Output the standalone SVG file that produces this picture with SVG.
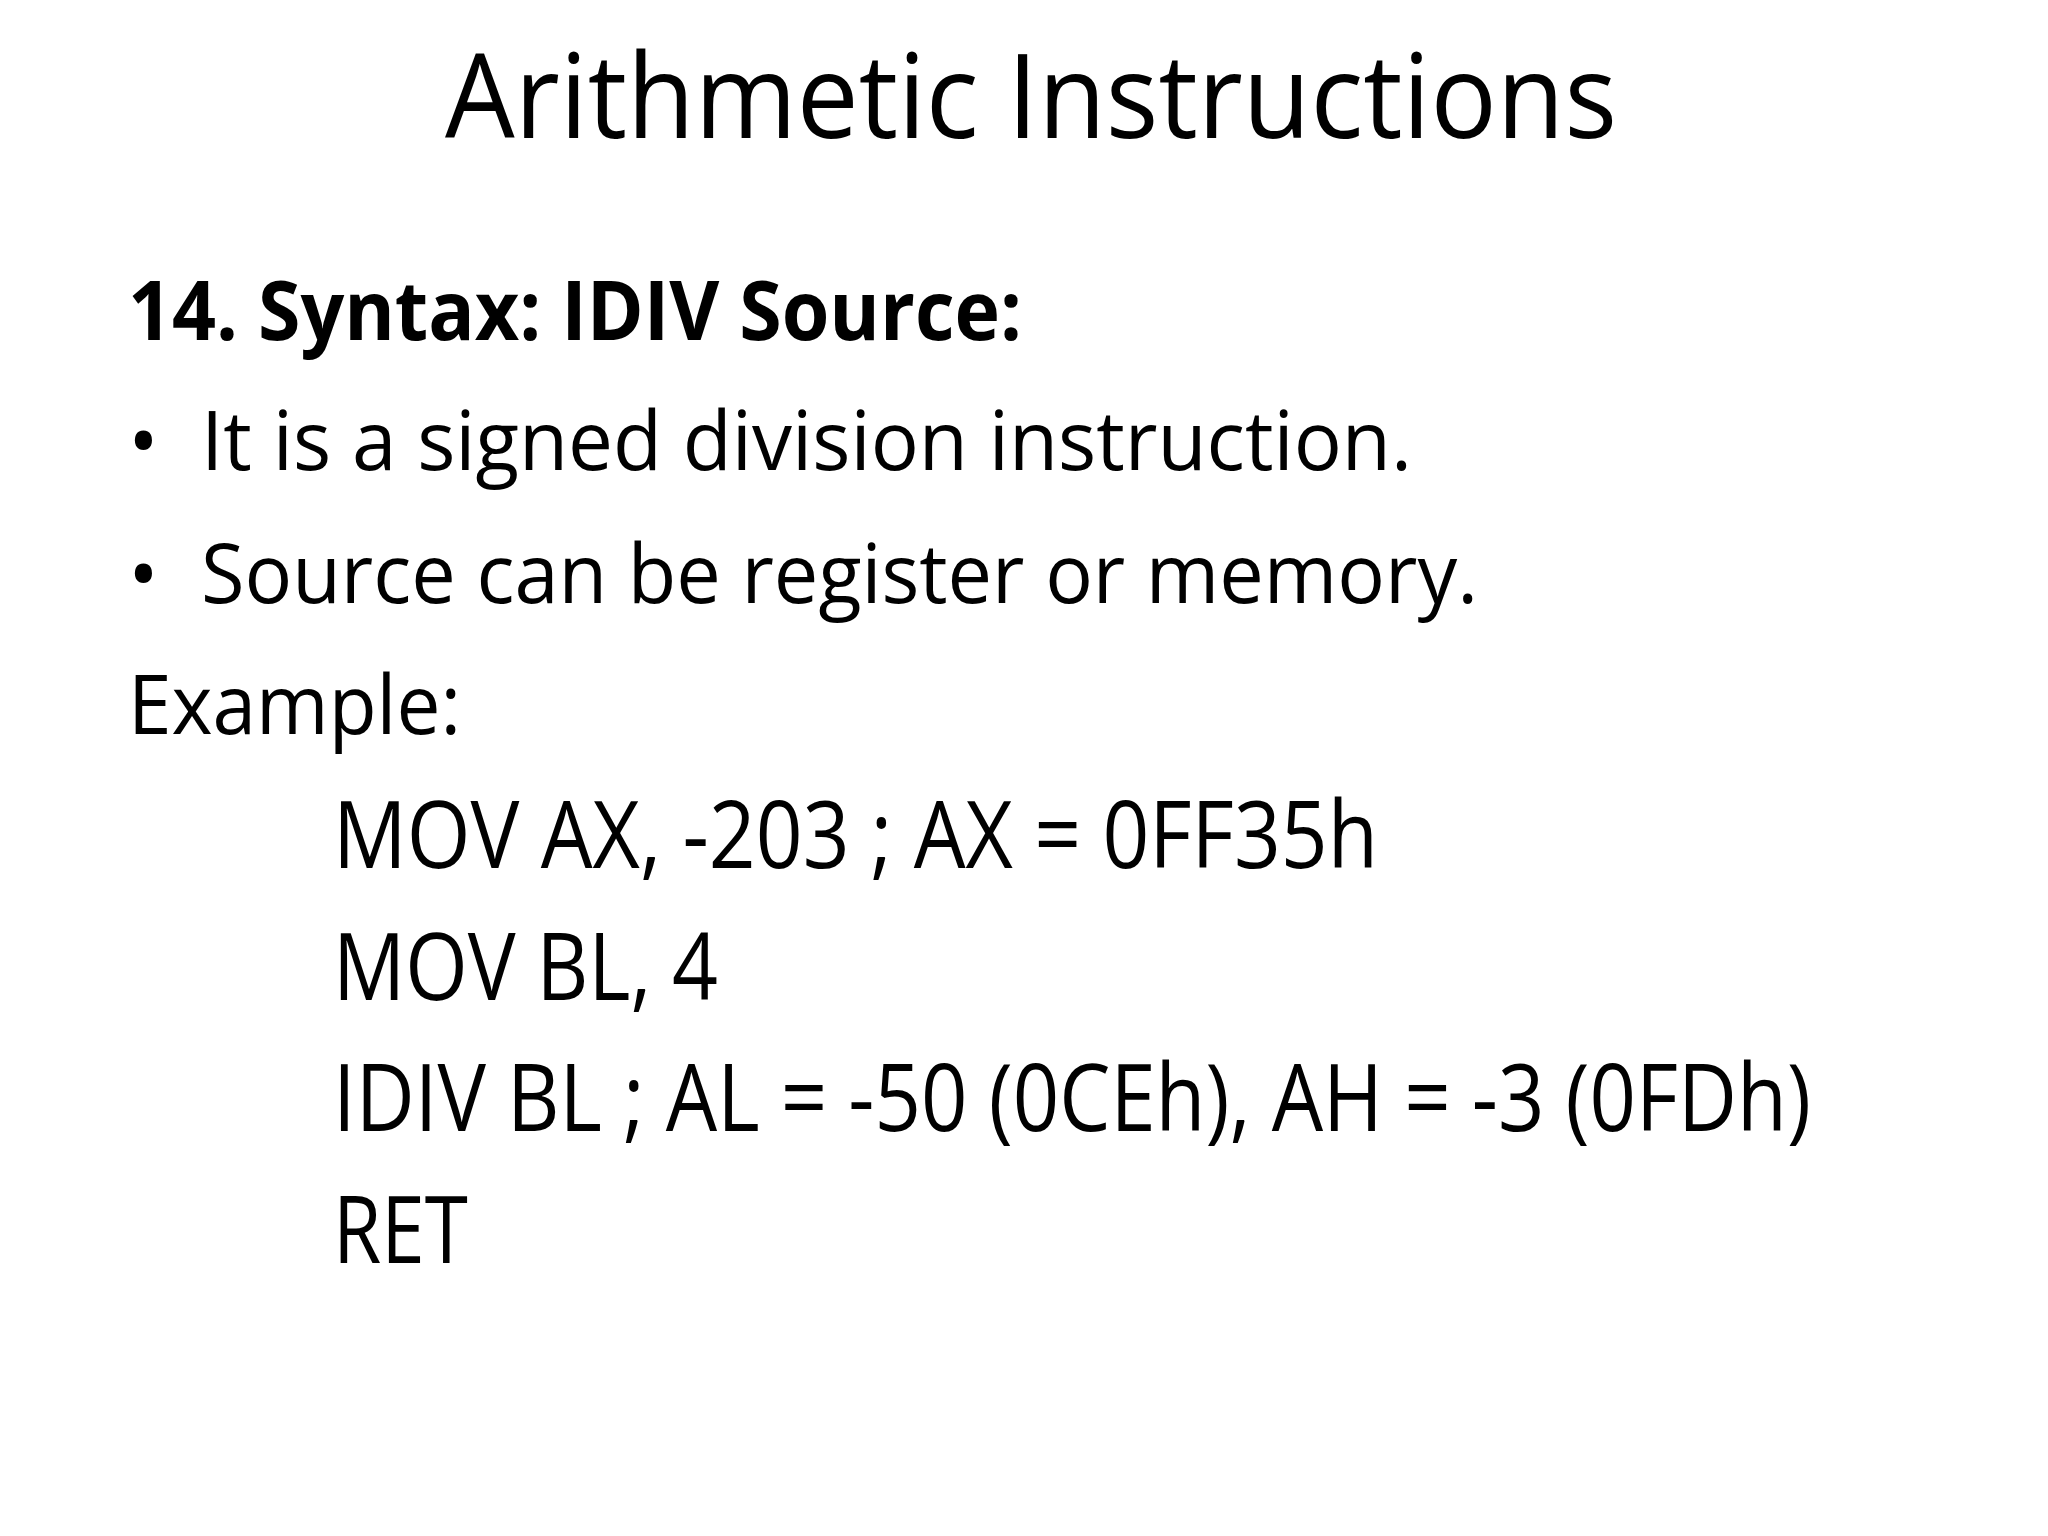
<svg xmlns="http://www.w3.org/2000/svg" width="2048" height="1536" viewBox="0 0 2048 1536">
<style>
text{font-family:"Open Sans","Noto Sans",sans-serif;fill:#000}
.b{font-size:82px}
.c{font-size:94px}
</style>
<rect width="2048" height="1536" fill="#fff"/>
<text x="445" y="138" font-size="118" textLength="1172" lengthAdjust="spacingAndGlyphs">Arithmetic Instructions</text>
<text x="128" y="340" class="b" font-weight="bold" textLength="894" lengthAdjust="spacingAndGlyphs">14. Syntax: IDIV Source:</text>
<text x="128" y="470" class="b">•</text>
<text x="201" y="470" class="b" textLength="1211" lengthAdjust="spacingAndGlyphs">It is a signed division instruction.</text>
<text x="128" y="603" class="b">•</text>
<text x="201" y="603" class="b" textLength="1277" lengthAdjust="spacingAndGlyphs">Source can be register or memory.</text>
<text x="128" y="734" class="b" textLength="333" lengthAdjust="spacingAndGlyphs">Example:</text>
<text x="333" y="868" class="c" textLength="1045" lengthAdjust="spacingAndGlyphs">MOV AX, -203 ; AX = 0FF35h</text>
<text x="333" y="1000" class="c" textLength="385" lengthAdjust="spacingAndGlyphs">MOV BL, 4</text>
<text x="333" y="1131" class="c" textLength="1478" lengthAdjust="spacingAndGlyphs">IDIV BL ; AL = -50 (0CEh), AH = -3 (0FDh)</text>
<text x="333" y="1263" class="c" textLength="135" lengthAdjust="spacingAndGlyphs">RET</text>
</svg>
